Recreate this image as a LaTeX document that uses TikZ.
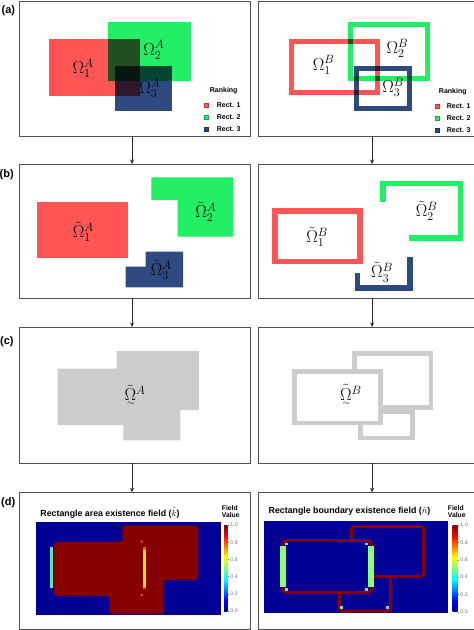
\documentclass[tikz,border=0pt]{standalone}
\usepackage{amsmath}
\usepackage{fontspec}
\setsansfont{Liberation Sans}
\usetikzlibrary{arrows.meta}
\definecolor{rr}{RGB}{255,85,85}
\definecolor{gg}{RGB}{34,238,102}
\definecolor{bb}{RGB}{46,74,128}
\definecolor{panelgray}{RGB}{80,80,80}
\definecolor{lgray}{RGB}{204,204,204}
\definecolor{jetlo}{RGB}{0,0,150}
\definecolor{jethi}{RGB}{135,0,0}
\definecolor{jetg}{RGB}{80,235,170}
\definecolor{jetg2}{RGB}{140,255,120}
\definecolor{jety}{RGB}{255,225,0}
\definecolor{jeto}{RGB}{255,90,20}
\definecolor{jetc}{RGB}{120,220,255}
\newcommand{\utom}[1]{\rlap{\raisebox{-5pt}{\hspace{2.6pt}$\scriptscriptstyle\sim$}}$\tilde{\Omega}^{#1}$}
\pgfdeclareverticalshading{jetbar}{100bp}{rgb(0bp)=(0,0,0.5); rgb(25bp)=(0,0,0.5); rgb(31.25bp)=(0,0,1); rgb(43.75bp)=(0,1,1); rgb(56.25bp)=(1,1,0); rgb(68.75bp)=(1,0,0); rgb(75bp)=(0.5,0,0); rgb(100bp)=(0.5,0,0)}
\tikzset{
  panel/.style={draw=panelgray, line width=0.8pt, inner sep=0pt, outer sep=0pt},
  arr/.style={draw=black!85, line width=0.8pt, -{Stealth[length=4.5pt,width=4pt]}},
  plabel/.style={font=\sffamily\bfseries\fontsize{11}{12}\selectfont, inner sep=0pt, anchor=west},
  om/.style={font=\fontsize{18}{19}\selectfont, inner sep=0pt},
  bm/.style={blend mode=multiply},
  legtxt/.style={font=\sffamily\bfseries\fontsize{7}{8}\selectfont, inner sep=0pt, anchor=west},
  legsq/.style={minimum size=4pt, inner sep=0pt, line width=0.5pt},
  ttl/.style={font=\sffamily\bfseries\fontsize{8.8}{10}\selectfont, inner sep=0pt},
  fv/.style={font=\sffamily\bfseries\fontsize{6.8}{7.6}\selectfont, inner sep=0pt, align=left, anchor=north west},
  tick/.style={font=\sffamily\fontsize{5.3}{6}\selectfont, text=black!55, inner sep=0pt, anchor=west},
}
\begin{document}
\begin{tikzpicture}[x=1pt, y=-1pt]
\clip (0,0) rectangle (474,630);
\fill[white] (0,0) rectangle (474,630);

% panels
\node[panel, minimum width=231pt, minimum height=135pt] (pa1) at (135,68.5) {};
\node[panel, minimum width=231.3pt, minimum height=135pt] (pa2) at (374.35,68.5) {};
\node[panel, minimum width=231pt, minimum height=134.3pt] (pb1) at (135,231.15) {};
\node[panel, minimum width=231.3pt, minimum height=134.3pt] (pb2) at (374.35,231.15) {};
\node[panel, minimum width=231pt, minimum height=136.3pt] (pc1) at (135,395.15) {};
\node[panel, minimum width=231.3pt, minimum height=136.3pt] (pc2) at (374.35,395.15) {};
\node[panel, minimum width=231pt, minimum height=136.7pt] (pd1) at (135,560.65) {};
\node[panel, minimum width=231.3pt, minimum height=136.7pt] (pd2) at (374.35,560.65) {};

% arrows
\draw[arr] ([xshift=-3pt]pa1.south) -- ([xshift=-3pt]pb1.north);
\draw[arr] ([xshift=-3pt]pb1.south) -- ([xshift=-3pt]pc1.north);
\draw[arr] ([xshift=-3pt]pc1.south) -- ([xshift=-3pt]pd1.north);
\draw[arr] ([xshift=-2.3pt]pa2.south) -- ([xshift=-2.3pt]pb2.north);
\draw[arr] ([xshift=-2.3pt]pb2.south) -- ([xshift=-2.3pt]pc2.north);
\draw[arr] ([xshift=-2.3pt]pc2.south) -- ([xshift=-2.3pt]pd2.north);

% panel labels
\node[plabel] (la) at (1.5,11) {(a)};
\node[plabel] (lb) at (-0.5,175) {(b)};
\node[plabel] (lc) at (0,341.7) {(c)};
\node[plabel] (ld) at (1,502.7) {(d)};

% ---------- (a) left ----------
\fill[rr, bm] (49.3,39.3) rectangle (140,95.7);
\fill[gg, bm] (108.3,21.7) rectangle (190.7,80.7);
\fill[bb, bm] (114.7,66) rectangle (172,111);
\node[om] (oa1) at (83,68.3) {$\Omega_1^A$};
\node[om] (oa2) at (153.8,50) {$\Omega_2^A$};
\node[om] (oa3) at (149.7,88.3) {$\Omega_3^A$};
\node[legtxt, anchor=center] (rka) at (223.7,91) {Ranking};
\node[legsq, fill=rr, draw=rr!70!black] (sqa1) at (206.3,105) {};
\node[legsq, fill=gg, draw=gg!70!black] (sqa2) at (206.3,117.5) {};
\node[legsq, fill=bb, draw=bb!70!black] (sqa3) at (206.3,129.5) {};
\node[legtxt] (ta1) at (216.7,105) {Rect. 1};
\node[legtxt] (ta2) at (216.7,117.5) {Rect. 2};
\node[legtxt] (ta3) at (216.7,129.5) {Rect. 3};

% ---------- (a) right ----------
\draw[rr, bm, line width=5pt] (291.8,41.8) rectangle (377.2,92.8);
\draw[gg, bm, line width=5pt] (350.5,24.2) rectangle (427.8,78.2);
\draw[bb, bm, line width=5pt] (356.8,68.5) rectangle (409.5,108.5);
\node[om] (ob1) at (323.7,65) {$\Omega_1^B$};
\node[om] (ob2) at (397.3,48.3) {$\Omega_2^B$};
\node[om] (ob3) at (393.2,87.5) {$\Omega_3^B$};
\node[legtxt, anchor=center] (rkb) at (452.8,91.7) {Ranking};
\node[legsq, fill=rr, draw=rr!70!black] (sqb1) at (437.3,106) {};
\node[legsq, fill=gg, draw=gg!70!black] (sqb2) at (437.3,118.5) {};
\node[legsq, fill=bb, draw=bb!70!black] (sqb3) at (437.3,130.5) {};
\node[legtxt] (tb1) at (446.7,106) {Rect. 1};
\node[legtxt] (tb2) at (446.7,118.5) {Rect. 2};
\node[legtxt] (tb3) at (446.7,130.5) {Rect. 3};

% ---------- (b) left ----------
\fill[rr] (37.3,201.7) rectangle (128,258);
\fill[gg] (151.3,177.3) -- (233.3,177.3) -- (233.3,236.7) -- (177.7,236.7) -- (177.7,200) -- (151.3,200) -- cycle;
\fill[bb] (145.7,251.7) -- (183,251.7) -- (183,287.3) -- (125.7,287.3) -- (125.7,266.7) -- (145.7,266.7) -- cycle;
\node[om] (tob1) at (83.3,232) {$\tilde{\Omega}_1^A$};
\node[om] (tob2) at (205.8,211.7) {$\tilde{\Omega}_2^A$};
\node[om] (tob3) at (161.2,270) {$\tilde{\Omega}_3^A$};

% ---------- (b) right ----------
\draw[rr, line width=5.5pt] (274.75,211.05) rectangle (359.95,261.55);
\draw[gg, line width=5.5pt] (382.75,201.7) -- (382.75,183.45) -- (460.55,183.45) -- (460.55,237.95) -- (409.3,237.95);
\draw[bb, line width=5.5pt] (357.5,273.3) -- (357.5,288.2) -- (409.9,288.2) -- (409.9,257.3);
\node[om] (tbb1) at (317.2,236.7) {$\tilde{\Omega}_1^B$};
\node[om] (tbb2) at (426.7,210.8) {$\tilde{\Omega}_2^B$};
\node[om] (tbb3) at (382,272.2) {$\tilde{\Omega}_3^B$};

% ---------- (c) left ----------
\fill[lgray] (57.7,368.7) -- (116.7,368.7) -- (116.7,351) -- (199,351) -- (199,410) -- (180.3,410) -- (180.3,440.3) -- (123.3,440.3) -- (123.3,425) -- (57.7,425) -- cycle;
\node[om] (tc1) at (135,395.5) {\utom{A}};

% ---------- (c) right ----------
\draw[lgray, fill=white, line width=4.8pt] (360.1,411.4) rectangle (412.6,437.9);
\draw[lgray, fill=white, line width=4.8pt] (354.1,353.4) rectangle (430.9,407.6);
\draw[lgray, fill=white, line width=4.8pt] (294.4,371.1) rectangle (380.3,422.9);
\node[om] (tc2) at (350.8,395) {\utom{B}};

% ---------- (d) left ----------
\node[ttl] (td1) at (110,512.7) {Rectangle area existence field ($\hat{k}$)};
\fill[jetlo] (35.7,522.3) rectangle (220.7,615);
\fill[jethi, rounded corners=3pt] (54,541.7) -- (122.3,541.7) -- (122.3,525.7) -- (198.3,525.7) -- (198.3,580) -- (164,580) -- (164,614) -- (109.3,614) -- (109.3,596) -- (54,596) -- cycle;
\fill[jetc] (50.2,547.3) rectangle (53.4,588.3);
\fill[jetg] (50.2,550) rectangle (53.4,585.5);
\fill[jeto] (142.8,547.3) rectangle (145.9,589.3);
\fill[jety] (142.8,549.5) rectangle (145.9,587);
\fill[jeto] (141.7,541.7) circle (1.3);
\fill[jeto] (141.7,595) circle (1.3);
\shade[shading=jetbar] (224,525) rectangle (227.7,611);
\node[fv] (fv1) at (221.7,505) {Field\\Value};
\foreach \v [count=\i from 0] in {0.0,0.2,0.4,0.6,0.8,1.0} {
  \draw[black!55, line width=0.3pt] (227.7,611-\i*17.2) -- (229.4,611-\i*17.2);
  \node[tick] (tka\i) at (230.2,611-\i*17.2) {\v};
}

% ---------- (d) right ----------
\node[ttl] (td2) at (349.5,511.7) {Rectangle boundary existence field ($\hat{n}$)};
\fill[jetlo] (263.7,521) rectangle (447.7,612.7);
\draw[jethi, line width=3pt, rounded corners=3pt] (351.3,541) -- (351.3,526.7) -- (423.7,526.7) -- (423.7,576.7) -- (372,576.7);
\draw[jethi, line width=3pt, rounded corners=3pt] (339.3,592) -- (339.3,611) -- (390.7,611) -- (390.7,576.7);
\draw[jethi, line width=3pt, rounded corners=3pt] (283,540.7) rectangle (371.3,592.3);
\fill[jetg2] (280.3,546) rectangle (285.7,587.3);
\fill[jetg2] (368,546) rectangle (373.7,587.3);
\foreach \p in {(286.3,544),(366.3,544),(286.3,589.3),(366.3,589.3),(341.3,607.3),(387.7,607.3)} {
  \fill[jetc] \p ++(-1.3,-1.3) rectangle ++(2.6,2.6);
}
\shade[shading=jetbar] (452.7,525) rectangle (457.7,611.7);
\node[fv] (fv2) at (447.7,505) {Field\\Value};
\foreach \v [count=\i from 0] in {0.0,0.2,0.4,0.6,0.8,1.0} {
  \draw[black!55, line width=0.3pt] (457.7,611.7-\i*17.34) -- (459.4,611.7-\i*17.34);
  \node[tick] (tkb\i) at (460.2,611.7-\i*17.34) {\v};
}
\end{tikzpicture}
\end{document}
